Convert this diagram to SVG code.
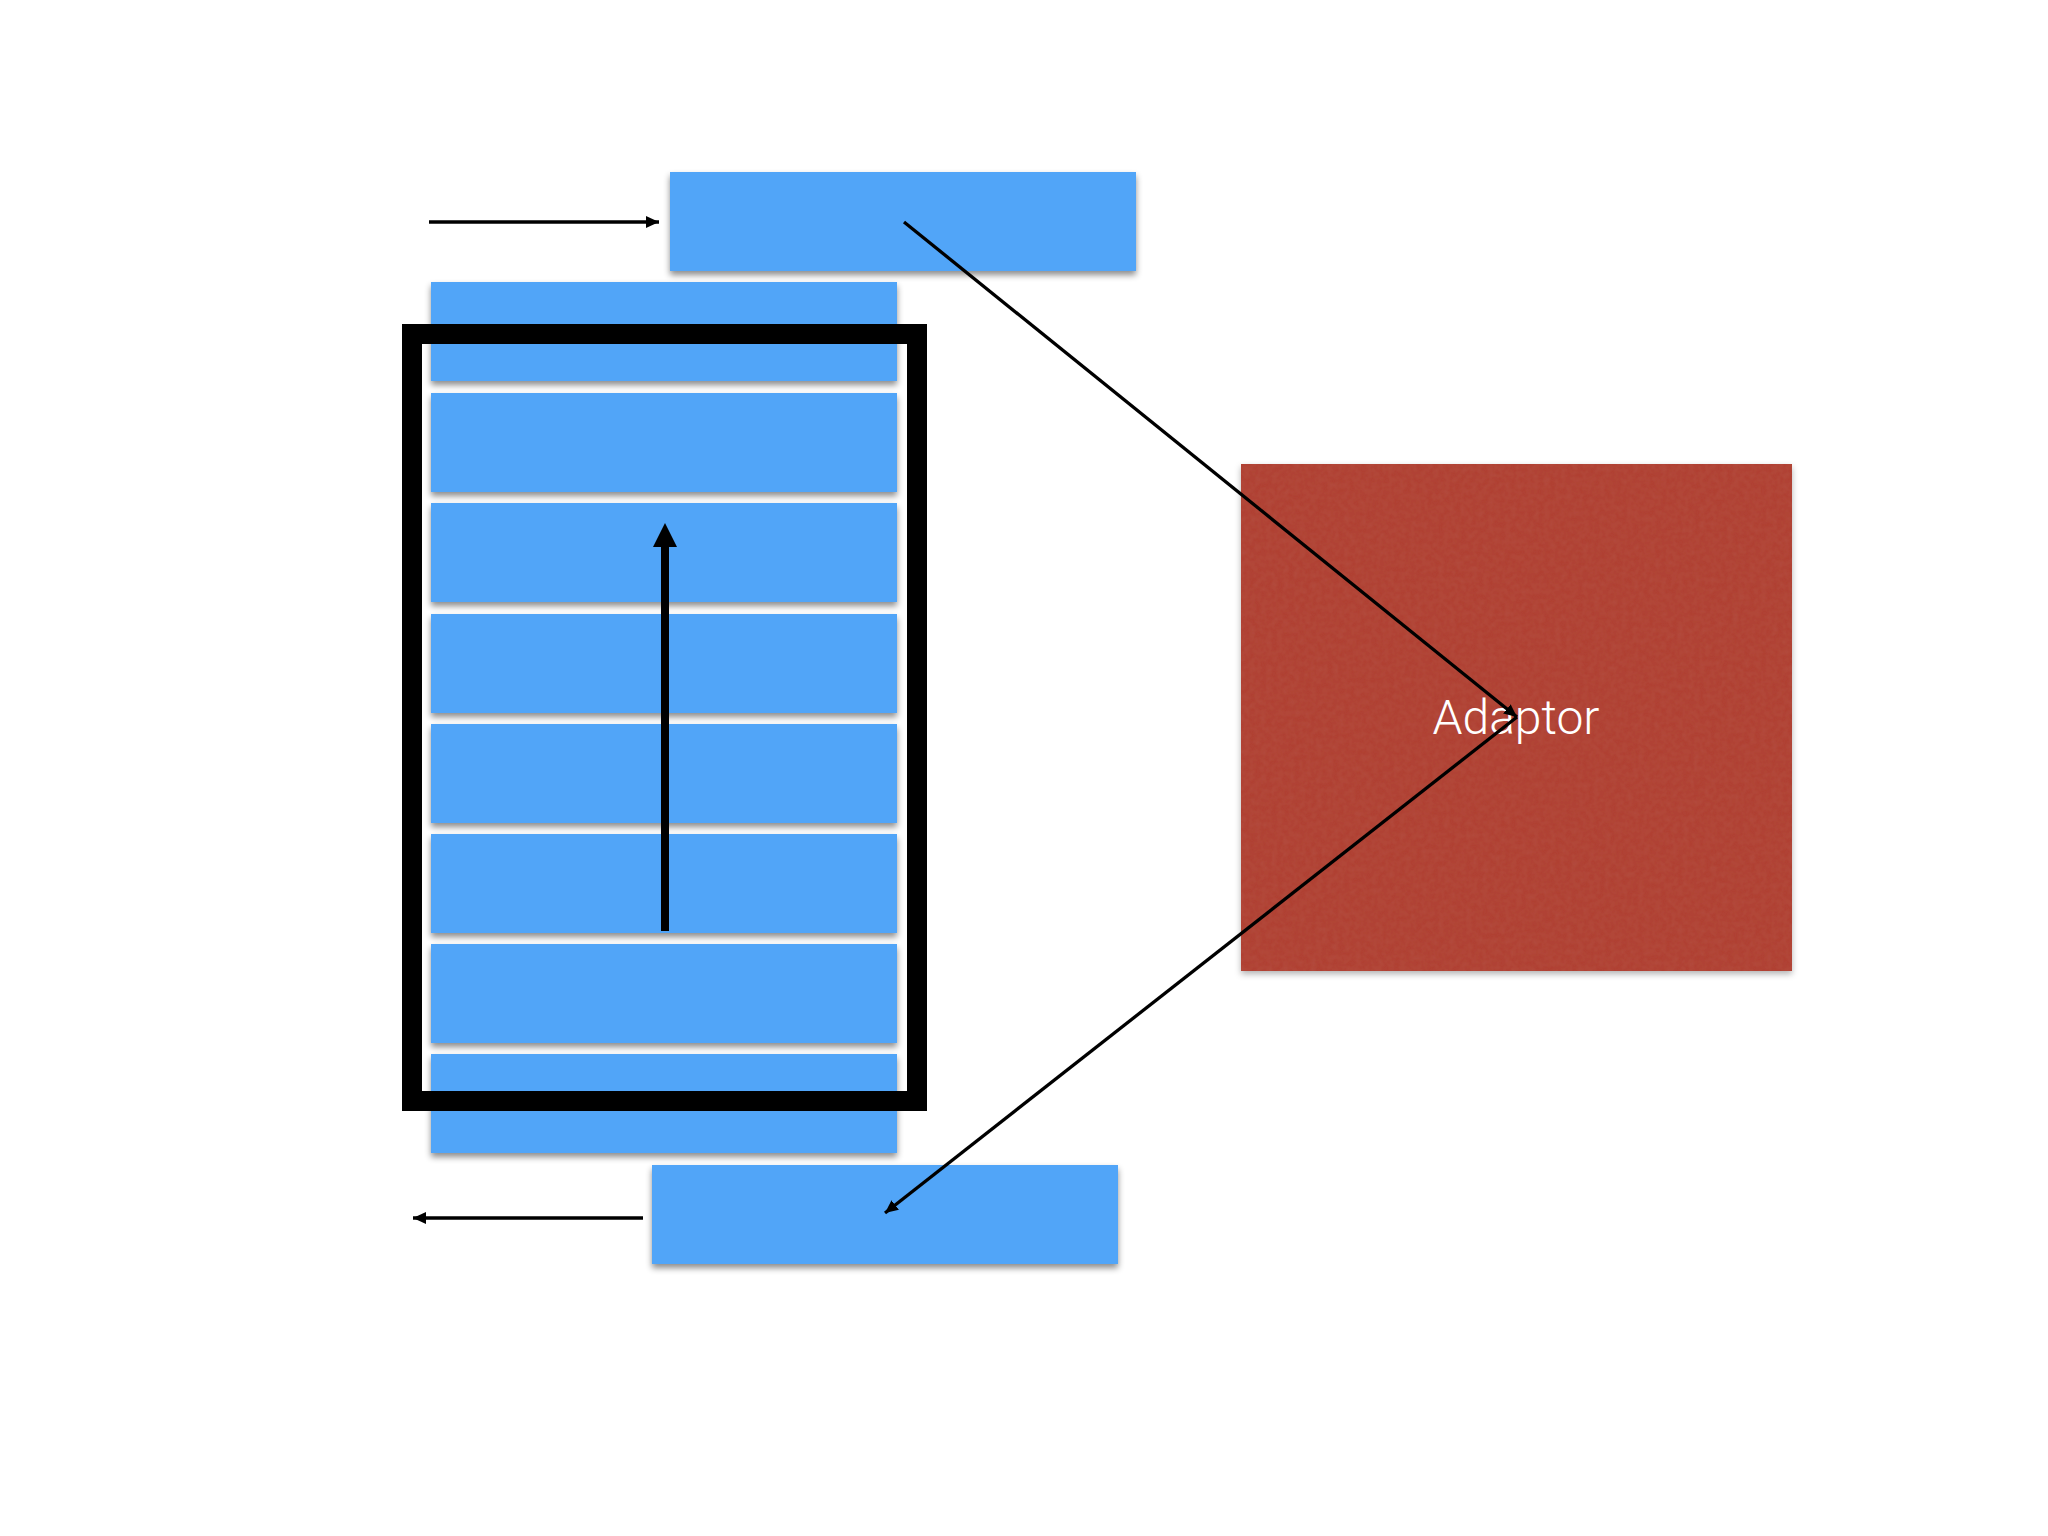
<svg xmlns="http://www.w3.org/2000/svg" width="2048" height="1536" viewBox="0 0 2048 1536">
  <style>
    .blue { fill: #51a5f8; filter: url(#shadow); }
    .thin { stroke: #000; stroke-width: 3.3; fill: none; marker-end: url(#arrow); }
    .label { font-family: Roboto, "Liberation Sans", sans-serif; font-weight: 300; font-size: 48px; fill: #ffffff; text-anchor: middle; }
  </style>
  <defs>
    <filter id="shadow" x="-5%" y="-20%" width="110%" height="150%">
      <feDropShadow dx="0" dy="4" stdDeviation="3" flood-color="#000" flood-opacity="0.45"/>
    </filter>
    <filter id="paper" x="0" y="0" width="100%" height="100%">
      <feTurbulence type="fractalNoise" baseFrequency="0.18" numOctaves="2" seed="4" result="noise"/>
      <feColorMatrix in="noise" type="matrix" values="0 0 0 0 0.62  0 0 0 0 0.22  0 0 0 0 0.17  0 0 0 0.12 -0.03" result="tint"/>
      <feComposite in="tint" in2="SourceGraphic" operator="in" result="tex"/>
      <feMerge><feMergeNode in="SourceGraphic"/><feMergeNode in="tex"/></feMerge>
    </filter>
    <filter id="redshadow" x="-5%" y="-5%" width="110%" height="110%">
      <feDropShadow dx="0" dy="3" stdDeviation="3" flood-color="#000" flood-opacity="0.3"/>
    </filter>
    <marker id="arrow" markerUnits="userSpaceOnUse" markerWidth="14" markerHeight="13" refX="13" refY="6" orient="auto">
      <path d="M0,0 L13,6 L0,12 z" fill="#000"/>
    </marker>
    <marker id="bigarrow" markerUnits="userSpaceOnUse" markerWidth="25" markerHeight="25" refX="0" refY="12" orient="auto">
      <path d="M0,0 L24,12 L0,24 z" fill="#000"/>
    </marker>
  </defs>
  <rect width="2048" height="1536" fill="#ffffff"/>

  <g id="input-box"><rect class="blue" x="670" y="172" width="466" height="99"/></g>
  <g id="output-box"><rect class="blue" x="652" y="1165" width="466" height="99"/></g>

  <g id="stack">
    <rect class="blue" x="431" y="282" width="466" height="99"/>
    <rect class="blue" x="431" y="393" width="466" height="99"/>
    <rect class="blue" x="431" y="503" width="466" height="99"/>
    <rect class="blue" x="431" y="614" width="466" height="99"/>
    <rect class="blue" x="431" y="724" width="466" height="99"/>
    <rect class="blue" x="431" y="834" width="466" height="99"/>
    <rect class="blue" x="431" y="944" width="466" height="99"/>
    <rect class="blue" x="431" y="1054" width="466" height="99"/>
  </g>

  <g id="frame"><rect x="412" y="334" width="505" height="767" fill="none" stroke="#000" stroke-width="20"/></g>

  <g id="adaptor">
    <g filter="url(#redshadow)"><rect x="1241" y="464" width="551" height="507" fill="#b04335" filter="url(#paper)"/></g>
    <text class="label" x="1516" y="734">Adaptor</text>
  </g>

  <g id="connectors">
    <line x1="665" y1="931" x2="665" y2="547" stroke="#000" stroke-width="8" marker-end="url(#bigarrow)"/>
    <line class="thin" x1="429" y1="222" x2="659" y2="222"/>
    <line class="thin" x1="904" y1="222" x2="1517" y2="717"/>
    <line class="thin" x1="1517" y1="717" x2="885" y2="1213"/>
    <line class="thin" x1="643" y1="1218" x2="413" y2="1218"/>
  </g>
</svg>
